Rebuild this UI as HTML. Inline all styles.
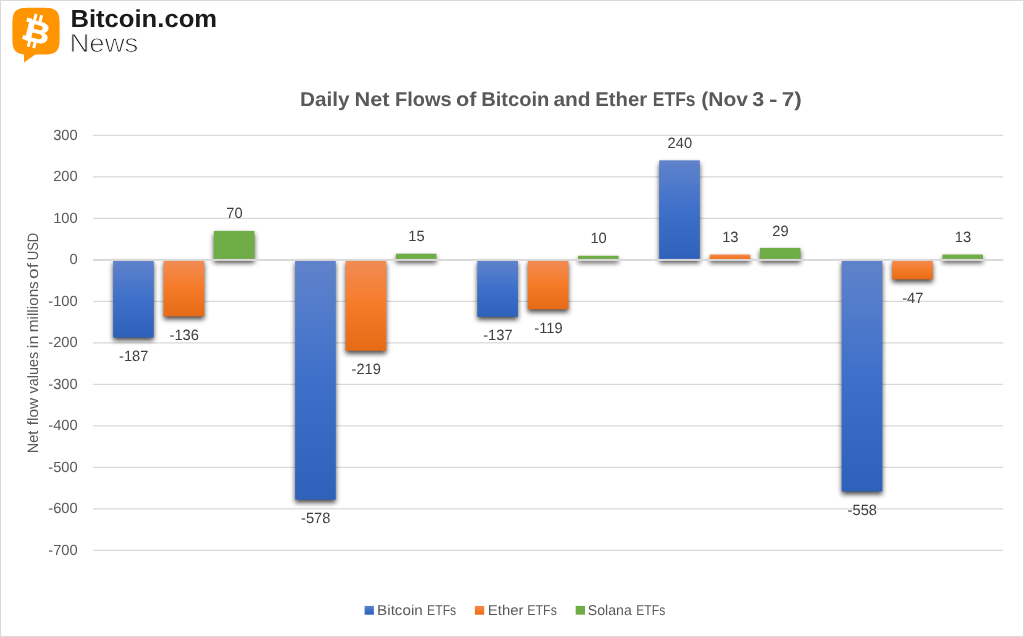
<!DOCTYPE html>
<html lang="en"><head><meta charset="utf-8"><title>Daily Net Flows of Bitcoin and Ether ETFs (Nov 3 - 7)</title>
<style>
html,body{margin:0;padding:0;background:#fff;}
body{width:1024px;height:637px;overflow:hidden;position:relative;font-family:"Liberation Sans",Arial,sans-serif;}
svg{position:absolute;left:0;top:0;display:block;}
text{font-family:"Liberation Sans",Arial,sans-serif;text-rendering:geometricPrecision;}
.ax{font-size:14.7px;fill:#595959;}
.dl{font-size:14.9px;fill:#404040;}
.lg{font-size:14.3px;fill:#595959;}
.yt{font-size:15px;fill:#595959;}
.ttl{font-size:20px;font-weight:bold;fill:#595959;}
</style></head><body>
<svg width="1024" height="637" viewBox="0 0 1024 637">
<defs>
<linearGradient id="gb" x1="0" y1="0" x2="0" y2="1"><stop offset="0" stop-color="#6083cb"/><stop offset="0.5" stop-color="#3e70ca"/><stop offset="1" stop-color="#2e61ba"/></linearGradient>
<linearGradient id="go" x1="0" y1="0" x2="0" y2="1"><stop offset="0" stop-color="#f18c55"/><stop offset="0.5" stop-color="#f67b28"/><stop offset="1" stop-color="#e56b17"/></linearGradient>
<linearGradient id="gg" x1="0" y1="0" x2="0" y2="1"><stop offset="0" stop-color="#70ad47"/><stop offset="1" stop-color="#6fab46"/></linearGradient>
<filter id="sh" x="0" y="0" width="1024" height="637" filterUnits="userSpaceOnUse"><feGaussianBlur in="SourceAlpha" stdDeviation="2.4"/><feOffset dx="0" dy="2.5"/><feComponentTransfer><feFuncA type="linear" slope="0.72"/></feComponentTransfer></filter>
</defs>
<rect x="0" y="0" width="1024" height="637" fill="#fff"/>
<rect x="0.5" y="0.5" width="1023" height="636" fill="none" stroke="#d9d9d9" stroke-width="1"/>
<g stroke="#d9d9d9" stroke-width="1.25"><line x1="93" y1="135.47" x2="1003.2" y2="135.47"/><line x1="93" y1="176.95" x2="1003.2" y2="176.95"/><line x1="93" y1="218.44" x2="1003.2" y2="218.44"/><line x1="93" y1="301.42" x2="1003.2" y2="301.42"/><line x1="93" y1="342.91" x2="1003.2" y2="342.91"/><line x1="93" y1="384.39" x2="1003.2" y2="384.39"/><line x1="93" y1="425.88" x2="1003.2" y2="425.88"/><line x1="93" y1="467.37" x2="1003.2" y2="467.37"/><line x1="93" y1="508.86" x2="1003.2" y2="508.86"/><line x1="93" y1="550.35" x2="1003.2" y2="550.35"/></g>
<g filter="url(#sh)" fill="#000"><rect x="113.15" y="259.93" width="40.6" height="77.58"/><rect x="163.65" y="259.93" width="40.6" height="56.42"/><rect x="213.85" y="230.89" width="40.6" height="29.04"/><rect x="295.15" y="259.93" width="40.6" height="239.8"/><rect x="345.65" y="259.93" width="40.6" height="90.86"/><rect x="395.85" y="253.71" width="40.6" height="6.22"/><rect x="477.3" y="259.93" width="40.6" height="56.84"/><rect x="527.8" y="259.93" width="40.6" height="49.37"/><rect x="578" y="255.78" width="40.6" height="4.15"/><rect x="659.2" y="160.36" width="40.6" height="99.57"/><rect x="709.7" y="254.54" width="40.6" height="5.39"/><rect x="759.9" y="247.9" width="40.6" height="12.03"/><rect x="841.7" y="259.93" width="40.6" height="231.5"/><rect x="892.2" y="259.93" width="40.6" height="19.5"/><rect x="942.4" y="254.54" width="40.6" height="5.39"/></g>
<g><rect x="113.15" y="259.93" width="40.6" height="77.58" fill="url(#gb)"/><rect x="163.65" y="259.93" width="40.6" height="56.42" fill="url(#go)"/><rect x="213.85" y="230.89" width="40.6" height="29.04" fill="url(#gg)"/><rect x="295.15" y="259.93" width="40.6" height="239.8" fill="url(#gb)"/><rect x="345.65" y="259.93" width="40.6" height="90.86" fill="url(#go)"/><rect x="395.85" y="253.71" width="40.6" height="6.22" fill="url(#gg)"/><rect x="477.3" y="259.93" width="40.6" height="56.84" fill="url(#gb)"/><rect x="527.8" y="259.93" width="40.6" height="49.37" fill="url(#go)"/><rect x="578" y="255.78" width="40.6" height="4.15" fill="url(#gg)"/><rect x="659.2" y="160.36" width="40.6" height="99.57" fill="url(#gb)"/><rect x="709.7" y="254.54" width="40.6" height="5.39" fill="url(#go)"/><rect x="759.9" y="247.9" width="40.6" height="12.03" fill="url(#gg)"/><rect x="841.7" y="259.93" width="40.6" height="231.5" fill="url(#gb)"/><rect x="892.2" y="259.93" width="40.6" height="19.5" fill="url(#go)"/><rect x="942.4" y="254.54" width="40.6" height="5.39" fill="url(#gg)"/></g>
<rect x="93" y="258.93" width="910.2" height="2" fill="#d9d9d9"/>
<g><text class="dl" transform="translate(133.75,360.91) scale(0.985,1)" text-anchor="middle">-187</text><text class="dl" transform="translate(184.25,339.75) scale(0.985,1)" text-anchor="middle">-136</text><text class="dl" transform="translate(234.45,218.49) scale(0.985,1)" text-anchor="middle">70</text><text class="dl" transform="translate(315.75,523.13) scale(0.985,1)" text-anchor="middle">-578</text><text class="dl" transform="translate(366.25,374.19) scale(0.985,1)" text-anchor="middle">-219</text><text class="dl" transform="translate(416.45,241.31) scale(0.985,1)" text-anchor="middle">15</text><text class="dl" transform="translate(497.9,340.17) scale(0.985,1)" text-anchor="middle">-137</text><text class="dl" transform="translate(548.4,332.7) scale(0.985,1)" text-anchor="middle">-119</text><text class="dl" transform="translate(598.6,243.38) scale(0.985,1)" text-anchor="middle">10</text><text class="dl" transform="translate(679.8,147.96) scale(0.985,1)" text-anchor="middle">240</text><text class="dl" transform="translate(730.3,242.14) scale(0.985,1)" text-anchor="middle">13</text><text class="dl" transform="translate(780.5,235.5) scale(0.985,1)" text-anchor="middle">29</text><text class="dl" transform="translate(862.3,514.83) scale(0.985,1)" text-anchor="middle">-558</text><text class="dl" transform="translate(912.8,302.83) scale(0.985,1)" text-anchor="middle">-47</text><text class="dl" transform="translate(963,242.14) scale(0.985,1)" text-anchor="middle">13</text></g>
<g class="ax" text-anchor="end"><text transform="translate(77.7,139.92) scale(1,1)">300</text><text transform="translate(77.7,181.4) scale(1,1)">200</text><text transform="translate(77.7,222.89) scale(1,1)">100</text><text transform="translate(77.7,264.38) scale(1,1)">0</text><text transform="translate(77.7,305.87) scale(1,1)">-100</text><text transform="translate(77.7,347.36) scale(1,1)">-200</text><text transform="translate(77.7,388.84) scale(1,1)">-300</text><text transform="translate(77.7,430.33) scale(1,1)">-400</text><text transform="translate(77.7,471.82) scale(1,1)">-500</text><text transform="translate(77.7,513.31) scale(1,1)">-600</text><text transform="translate(77.7,554.8) scale(1,1)">-700</text></g>
<text class="yt" transform="translate(38.1,452.5) rotate(-90)" y="0"><tspan x="-0.74" textLength="22.55" lengthAdjust="spacingAndGlyphs">Net</tspan> <tspan x="27.29" textLength="27.44" lengthAdjust="spacingAndGlyphs">flow</tspan> <tspan x="59.06" textLength="41.53" lengthAdjust="spacingAndGlyphs">values</tspan> <tspan x="104.33" textLength="12.68" lengthAdjust="spacingAndGlyphs">in</tspan> <tspan x="120.36" textLength="50.9" lengthAdjust="spacingAndGlyphs">millions</tspan> <tspan x="173.57" textLength="15.92" lengthAdjust="spacingAndGlyphs">of</tspan> <tspan x="192.31" textLength="27.45" lengthAdjust="spacingAndGlyphs">USD</tspan></text>
<text class="ttl" y="106"><tspan x="299.99" textLength="49.69" lengthAdjust="spacingAndGlyphs">Daily</tspan> <tspan x="354.5" textLength="35.08" lengthAdjust="spacingAndGlyphs">Net</tspan> <tspan x="394.98" textLength="56.63" lengthAdjust="spacingAndGlyphs">Flows</tspan> <tspan x="455.97" textLength="20.44" lengthAdjust="spacingAndGlyphs">of</tspan> <tspan x="481.17" textLength="68.25" lengthAdjust="spacingAndGlyphs">Bitcoin</tspan> <tspan x="553.43" textLength="37.2" lengthAdjust="spacingAndGlyphs">and</tspan> <tspan x="595.33" textLength="51.84" lengthAdjust="spacingAndGlyphs">Ether</tspan> <tspan x="652.87" textLength="42.64" lengthAdjust="spacingAndGlyphs">ETFs</tspan> <tspan x="701.3" textLength="46.74" lengthAdjust="spacingAndGlyphs">(Nov</tspan> <tspan x="752.34" textLength="11.93" lengthAdjust="spacingAndGlyphs">3</tspan> <tspan x="768.99" textLength="8.51" lengthAdjust="spacingAndGlyphs">-</tspan> <tspan x="781.67" textLength="20.04" lengthAdjust="spacingAndGlyphs">7)</tspan></text>
<rect x="364.6" y="605.9" width="9.3" height="8.8" fill="url(#gb)"/><text class="lg" y="614.6"><tspan x="377.1" textLength="45.69" lengthAdjust="spacingAndGlyphs">Bitcoin</tspan> <tspan x="427.04" textLength="29.2" lengthAdjust="spacingAndGlyphs">ETFs</tspan></text>
<rect x="474.9" y="605.9" width="9.3" height="8.8" fill="url(#go)"/><text class="lg" y="614.6"><tspan x="487.8" textLength="35.71" lengthAdjust="spacingAndGlyphs">Ether</tspan> <tspan x="527.25" textLength="29.58" lengthAdjust="spacingAndGlyphs">ETFs</tspan></text>
<rect x="575.7" y="605.9" width="9.3" height="8.8" fill="url(#gg)"/><text class="lg" y="614.6"><tspan x="587.77" textLength="43.99" lengthAdjust="spacingAndGlyphs">Solana</tspan> <tspan x="636.27" textLength="28.96" lengthAdjust="spacingAndGlyphs">ETFs</tspan></text>
<g id="logo">
<path d="M23.8 50 L24.1 62.6 L35.6 54.2 Z" fill="#ff9500"/>
<path d="M59.65 31.15 L59.61 39.25 L59.49 42.08 L59.30 44.15 L59.02 45.83 L58.66 47.24 L58.22 48.46 L57.69 49.53 L57.06 50.46 L56.34 51.28 L55.52 51.99 L54.57 52.61 L53.50 53.13 L52.26 53.57 L50.83 53.93 L49.14 54.20 L47.05 54.39 L44.19 54.51 L36.00 54.55 L27.81 54.51 L24.95 54.39 L22.86 54.20 L21.17 53.93 L19.74 53.57 L18.50 53.13 L17.43 52.61 L16.48 51.99 L15.66 51.28 L14.94 50.46 L14.31 49.53 L13.78 48.46 L13.34 47.24 L12.98 45.83 L12.70 44.15 L12.51 42.08 L12.39 39.25 L12.35 31.15 L12.39 23.05 L12.51 20.22 L12.70 18.15 L12.98 16.47 L13.34 15.06 L13.78 13.84 L14.31 12.77 L14.94 11.84 L15.66 11.02 L16.48 10.31 L17.43 9.69 L18.50 9.17 L19.74 8.73 L21.17 8.37 L22.86 8.10 L24.95 7.91 L27.81 7.79 L36.00 7.75 L44.19 7.79 L47.05 7.91 L49.14 8.10 L50.83 8.37 L52.26 8.73 L53.50 9.17 L54.57 9.69 L55.52 10.31 L56.34 11.02 L57.06 11.84 L57.69 12.77 L58.22 13.84 L58.66 15.06 L59.02 16.47 L59.30 18.15 L59.49 20.22 L59.61 23.05 Z" fill="#ff9500"/>
<g transform="translate(36.65,31.15) rotate(13.5)" fill="#fff">
<text transform="scale(1.14,1)" x="-9.95" y="11" font-size="30.3" font-weight="bold" fill="#fff" stroke="#fff" stroke-width="0.6">B</text>
<rect x="-12.25" y="-11" width="5" height="4.1"/>
<rect x="-12.25" y="6.9" width="5" height="4.1"/>
<rect x="-6.1" y="-16.6" width="3" height="6.5"/>
<rect x="-0.4" y="-16.6" width="3" height="6.5"/>
<rect x="-6.1" y="10.2" width="3" height="6.9"/>
<rect x="-0.4" y="10.2" width="3" height="6.9"/>
</g>
</g>
<text x="70.4" y="27.3" font-size="24.6" font-weight="bold" fill="#1a1a1a" textLength="146.7" lengthAdjust="spacingAndGlyphs">Bitcoin.com</text>
<text x="69.4" y="51.75" font-size="26" fill="#1a1a1a" stroke="#fff" stroke-width="0.9" textLength="69" lengthAdjust="spacingAndGlyphs">News</text>
</svg>
</body></html>
